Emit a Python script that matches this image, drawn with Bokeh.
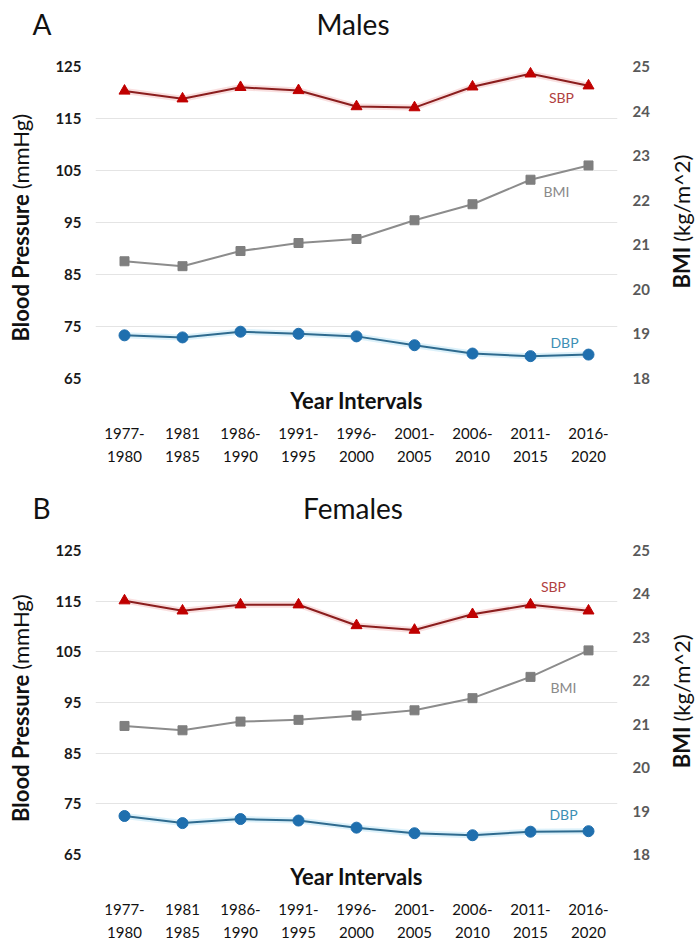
import math
from bokeh.plotting import figure
from bokeh.models import Range1d, LinearAxis, CategoricalAxis, FixedTicker, Title
from bokeh.layouts import column, row
from bokeh.core.properties import value
from bokeh.embed import file_html
from bokeh.resources import INLINE

categories = ["1977-1980", "1981-1985", "1986-1990", "1991-1995", "1996-2000",
              "2001-2005", "2006-2010", "2011-2015", "2016-2020"]
tick_labels = ["1977-\n1980", "1981\n1985", "1986-\n1990", "1991-\n1995", "1996-\n2000",
               "2001-\n2005", "2006-\n2010", "2011-\n2015", "2016-\n2020"]

bp_ticks = [65, 75, 85, 95, 105, 115, 125]
bmi_ticks = [18, 19, 20, 21, 22, 23, 24, 25]

male_sbp = [120.3, 118.8, 121.0, 120.4, 117.3, 117.1, 121.1, 123.6, 121.3]
male_dbp = [73.3, 72.9, 74.0, 73.6, 73.1, 71.4, 69.8, 69.3, 69.6]
male_bmi = [20.63, 20.52, 20.86, 21.04, 21.13, 21.55, 21.91, 22.46, 22.78]

female_sbp = [115.1, 113.1, 114.3, 114.3, 110.2, 109.3, 112.4, 114.3, 113.1]
female_dbp = [72.6, 71.2, 72.0, 71.7, 70.3, 69.2, 68.8, 69.5, 69.6]
female_bmi = [20.96, 20.86, 21.06, 21.10, 21.20, 21.32, 21.60, 22.09, 22.70]

FONT = "Lato"
SBP_LINE, SBP_MARK, SBP_TXT = "#8b1e1e", "#c00000", "#b04040"
BMI_LINE, BMI_MARK, BMI_TXT = "#8c8c8c", "#7f7f7f", "#8a8a8a"
DBP_LINE, DBP_MARK, DBP_TXT = "#2f6b8f", "#1f6fae", "#3d8fb5"

factors = tick_labels  # displayed factor names (two-line labels)
label_anchor = factors[7]

TOTAL_W = 699
LEFT_W, MAIN_W, RIGHT_W = 52, 610, 37
FRAME_L, FRAME_W = 36, 529


def bare(width, height, xr, yr, top=0, bottom=0):
    s = figure(width=width, height=height, x_range=xr, y_range=yr,
               min_border_left=0, min_border_right=0, min_border_top=top,
               min_border_bottom=bottom, x_axis_location=None, y_axis_location=None,
               toolbar_location=None, output_backend="svg")
    s.outline_line_color = None
    s.grid.visible = False
    return s


def rot_text(s, x, y, txt, style, align, size="22px"):
    s.text(x=[x], y=[y], text=[txt], angle=math.pi / 2, text_font=value(FONT),
           text_font_size=size, text_font_style=style, text_color="#111111",
           text_align=align, text_baseline="middle")


def make_panel(title, letter, sbp, dbp, bmi, head_h, title_y, top, frame_h, bottom, lab,
               l_anchor, r_anchor):
    # header with panel letter and title
    hd = bare(TOTAL_W, head_h, Range1d(0, TOTAL_W), Range1d(0, head_h))
    hd.text(x=[32], y=[head_h - title_y], text=[letter], text_font=value(FONT),
            text_font_size="28px", text_color="#111111", text_align="left",
            text_baseline="middle")
    hd.text(x=[LEFT_W + FRAME_L + FRAME_W / 2], y=[head_h - title_y], text=[title],
            text_font=value(FONT), text_font_size="28px", text_color="#111111",
            text_align="center", text_baseline="middle")

    height = top + frame_h + bottom
    right = MAIN_W - FRAME_L - FRAME_W
    p = figure(x_range=factors, y_range=Range1d(65, 125),
               width=MAIN_W, height=height,
               min_border_left=FRAME_L, min_border_right=right,
               min_border_top=top, min_border_bottom=bottom,
               x_axis_location=None,
               output_backend="svg", toolbar_location=None)
    p.outline_line_color = None
    for g in p.grid:
        if g.dimension == 0:
            g.visible = False
    p.ygrid.grid_line_color = "#e4e4e4"
    p.ygrid.grid_line_width = 1
    p.ygrid.ticker = FixedTicker(ticks=bp_ticks)

    ya = p.yaxis[0]
    ya.ticker = FixedTicker(ticks=bp_ticks)
    ya.axis_line_color = None
    ya.major_tick_line_color = None
    ya.minor_tick_line_color = None
    ya.major_label_text_font = FONT
    ya.major_label_text_font_style = "bold"
    ya.major_label_text_font_size = "15px"
    ya.major_label_text_color = "#1a1a1a"
    ya.major_label_standoff = 8

    p.extra_y_ranges = {"bmi": Range1d(18, 25)}
    ra = LinearAxis(y_range_name="bmi", ticker=FixedTicker(ticks=bmi_ticks))
    ra.axis_line_color = None
    ra.major_tick_line_color = None
    ra.minor_tick_line_color = None
    ra.major_label_text_font = FONT
    ra.major_label_text_font_style = "bold"
    ra.major_label_text_font_size = "15px"
    ra.major_label_text_color = "#595959"
    ra.major_label_standoff = 9
    p.add_layout(ra, "right")

    # "Year Intervals" directly under the frame, tick labels below it
    xt = Title(text="Year Intervals", align="center", text_font=FONT, text_font_style="bold",
               text_font_size="22px", text_color="#111111", standoff=12)
    p.add_layout(xt, "below")
    xb = CategoricalAxis()
    xb.major_label_text_font = FONT
    xb.major_label_text_font_size = "15px"
    xb.major_label_text_color = "#111111"
    xb.major_label_text_line_height = 1.32
    xb.major_label_standoff = -2
    xb.axis_line_color = None
    xb.major_tick_line_color = None
    xb.minor_tick_line_color = None
    p.add_layout(xb, "below")

    p.line(factors, sbp, line_color="#f2b8b8", line_width=6, line_alpha=0.45)
    p.line(factors, sbp, line_color=SBP_LINE, line_width=2)
    p.scatter(factors, sbp, marker="triangle", size=11, fill_color=SBP_MARK, line_color=SBP_MARK)

    p.line(factors, bmi, line_color=BMI_LINE, line_width=2, y_range_name="bmi")
    p.scatter(factors, bmi, marker="square", size=9, fill_color=BMI_MARK, line_color=BMI_MARK,
              y_range_name="bmi")

    p.line(factors, dbp, line_color="#c4e8f6", line_width=6, line_alpha=0.6)
    p.line(factors, dbp, line_color=DBP_LINE, line_width=2)
    p.scatter(factors, dbp, marker="circle", size=11, fill_color=DBP_MARK, line_color=DBP_MARK)

    (sx, sy), (bx, by), (dx, dy) = lab
    common = dict(text_font=value(FONT), text_font_size="14px", text_align="center",
                  text_baseline="middle")
    p.text(x=[label_anchor], y=[sy], text=["SBP"], x_offset=sx, text_color=SBP_TXT, **common)
    p.text(x=[label_anchor], y=[by], text=["BMI"], x_offset=bx, text_color=BMI_TXT,
           y_range_name="bmi", **common)
    p.text(x=[label_anchor], y=[dy], text=["DBP"], x_offset=dx, text_color=DBP_TXT, **common)

    # side strips: axis titles in bold + regular
    ls = bare(LEFT_W, height, Range1d(0, LEFT_W), Range1d(0, frame_h), top, bottom)
    rot_text(ls, 20, frame_h - l_anchor, "Blood Pressure", "bold", "right")
    rot_text(ls, 20, frame_h - l_anchor + 5, "(mmHg)", "normal", "left")

    rs = bare(RIGHT_W, height, Range1d(0, RIGHT_W), Range1d(0, frame_h), top, bottom)
    rot_text(rs, 19, frame_h - r_anchor, "BMI", "bold", "right")
    rot_text(rs, 19, frame_h - r_anchor + 5, "(kg/m^2)", "normal", "left")

    return column(hd, row(ls, p, rs, spacing=0), spacing=0)


top_panel = make_panel("Males", "A", male_sbp, male_dbp, male_bmi,
                       head_h=44, title_y=23, top=22, frame_h=315, bottom=87,
                       lab=((31, 119.0), (26, 22.2), (34, 71.9)),
                       l_anchor=129, r_anchor=182)
bottom_panel = make_panel("Females", "B", female_sbp, female_dbp, female_bmi,
                          head_h=58, title_y=39, top=24, frame_h=311, bottom=83,
                          lab=((23, 117.9), (33, 21.85), (33, 72.9)),
                          l_anchor=127, r_anchor=180)

layout = column(top_panel, bottom_panel, spacing=0)
open("out.html", "w").write(file_html(layout, INLINE))
